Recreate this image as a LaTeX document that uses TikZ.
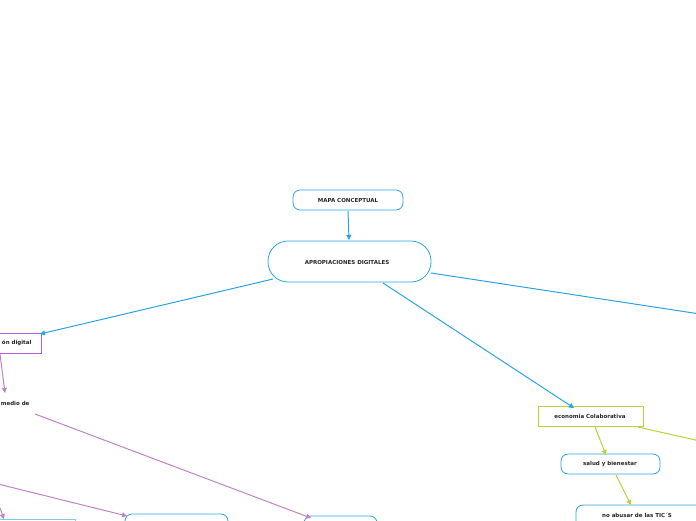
\documentclass[tikz,border=0pt]{standalone}
\usepackage{fontspec}
\setmainfont{DejaVu Sans}
\usetikzlibrary{arrows.meta}
\definecolor{cblue}{HTML}{2AA3E6}
\definecolor{cpur}{HTML}{C082C8}
\definecolor{cpurb}{HTML}{B060E0}
\definecolor{colive}{HTML}{BDCF3A}
\tikzset{
  lbl/.style={font=\bfseries\fontsize{5.5}{6}\selectfont, text=black!85},
  rbox/.style={draw=cblue, line width=0.8pt, rounded corners=7pt},
  bluearr/.style={draw=cblue, line width=1pt, -{Triangle[length=5pt,width=5pt]}},
  bluel/.style={draw=cblue, line width=1pt},
  purarr/.style={draw=cpur, line width=1pt, -{Triangle[length=5pt,width=5pt]}},
  olarr/.style={draw=colive, line width=1pt, -{Triangle[length=5pt,width=5pt]}},
  oll/.style={draw=colive, line width=1pt},
}
\begin{document}
\begin{tikzpicture}[x=1pt,y=-1pt]
\useasboundingbox (0,0) rectangle (696,520);
\begin{scope}
\clip (0,0) rectangle (696,520);
% boxes
\draw[rbox] (293,190) rectangle (403,210);
\node[lbl] (mapa) at (348,200) {MAPA CONCEPTUAL};
\draw[rbox, rounded corners=20pt] (268,241) rectangle (431,282);
\node[lbl] (apro) at (347,262) {APROPIACIONES DIGITALES};
\draw[draw=cpurb, line width=0.8pt] (-20,333) rectangle (41,353);
\node[lbl, anchor=east] (dig) at (35,343) {ón digital};
\node[lbl, anchor=east] (medio) at (33,403) {medio de};
\draw[draw=colive, line width=0.8pt] (538,406) rectangle (643,426);
\node[lbl] (eco) at (590,416) {economia Colaborativa};
\draw[rbox] (561,454) rectangle (660,474);
\node[lbl] (sal) at (610,464) {salud y bienestar};
\draw[rbox] (576,505) rectangle (710,535);
\node[lbl] (abu) at (637,515) {no abusar de las TIC´S};
\draw[rbox] (125,514) rectangle (228,535);
\draw[rbox] (304,516) rectangle (377,535);
\draw[draw=cblue!60, line width=0.8pt] (-10,519) rectangle (75,535);
% connectors
\coordinate (a1) at (348,211); \coordinate (a2) at (349,240);
\draw[bluearr] (a1) -- (a2);
\coordinate (b1) at (273,279); \coordinate (b2) at (40,334);
\draw[bluearr] (b1) -- (b2);
\coordinate (c1) at (383,283); \coordinate (c2) at (574,408);
\draw[bluearr] (c1) -- (c2);
\coordinate (d1) at (431,273); \coordinate (d2) at (700,314);
\draw[bluel] (d1) -- (d2);
\coordinate (e1) at (0,354); \coordinate (e2) at (5,393);
\draw[purarr] (e1) -- (e2);
\coordinate (f1) at (35,414); \coordinate (f2) at (311,518);
\draw[purarr] (f1) -- (f2);
\coordinate (g1) at (-2,484); \coordinate (g2) at (127,516);
\draw[purarr] (g1) -- (g2);
\coordinate (h1) at (0,508); \coordinate (h2) at (4,519);
\draw[purarr] (h1) -- (h2);
\coordinate (i1) at (595,427); \coordinate (i2) at (606,455);
\draw[olarr] (i1) -- (i2);
\coordinate (j1) at (638,427); \coordinate (j2) at (700,441);
\draw[oll] (j1) -- (j2);
\coordinate (k1) at (616,475); \coordinate (k2) at (631,505);
\draw[olarr] (k1) -- (k2);
\end{scope}
\end{tikzpicture}
\end{document}
